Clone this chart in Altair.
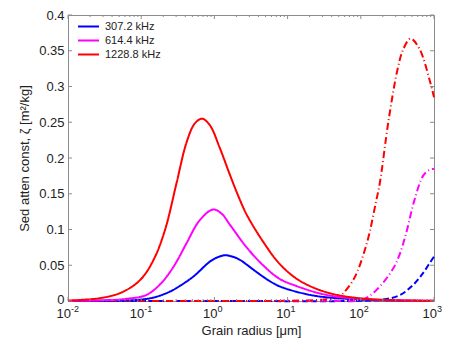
import altair as alt
import pandas as pd

# ---- data (x given as log10 of grain radius in µm) ----
freqs = ["307.2 kHz", "614.4 kHz", "1228.8 kHz"]
colors = ["#0000ff", "#ff00ff", "#ff0000"]

# viscous (solid) curves
blue_visc_logr = [-2.0, -1.5, -1.0, -0.79, -0.61, -0.52, -0.29, -0.063, 0.04, 0.142, 0.25, 0.35, 0.44, 0.57, 0.665, 0.76, 0.89, 1.12, 1.39, 1.67, 2.0, 2.5, 3.0]
blue_visc_val = [0.0, 0.0005, 0.002, 0.006, 0.013, 0.018, 0.034, 0.055, 0.061, 0.064, 0.062, 0.0575, 0.051, 0.041, 0.034, 0.0275, 0.0205, 0.013, 0.007, 0.004, 0.002, 0.0005, 0.0001]

mag_visc_logr = [-2.0, -1.5, -1.2, -0.93, -0.745, -0.61, -0.5, -0.38, -0.2, -0.018, 0.1, 0.21, 0.44, 0.665, 0.89, 1.12, 1.39, 1.67, 2.0, 2.5, 3.0]
mag_visc_val = [0.0001, 0.001, 0.003, 0.0084, 0.023, 0.040, 0.058, 0.081, 0.113, 0.128, 0.122, 0.107, 0.075, 0.050, 0.031, 0.021, 0.012, 0.006, 0.003, 0.0008, 0.0002]

red_visc_logr = [-2.0, -1.84, -1.56, -1.29, -1.06, -0.93, -0.81, -0.745, -0.65, -0.517, -0.38, -0.27, -0.17, -0.063, 0.074, 0.21, 0.33, 0.44, 0.665, 0.89, 1.14, 1.42, 1.7, 2.07, 2.5, 3.0]
red_visc_val = [0.0007, 0.0014, 0.004, 0.011, 0.025, 0.040, 0.062, 0.078, 0.108, 0.165, 0.222, 0.248, 0.255, 0.246, 0.214, 0.177, 0.146, 0.121, 0.083, 0.052, 0.030, 0.016, 0.008, 0.003, 0.001, 0.0003]

# scattering (dashed / dash-dot) curves
blue_scat_logr = [-2.0, 0.0, 2.0, 2.3, 2.53, 2.71, 2.85, 2.96, 3.0]
blue_scat_val = [0.0, 0.0, 0.0003, 0.002, 0.008, 0.022, 0.039, 0.056, 0.062]

mag_scat_logr = [-2.0, 0.0, 1.5, 2.02, 2.21, 2.44, 2.53, 2.62, 2.73, 2.85, 2.93, 3.0]
mag_scat_val = [0.0, 0.0, 0.0003, 0.002, 0.015, 0.045, 0.065, 0.095, 0.140, 0.175, 0.183, 0.185]

red_scat_logr = [-2.0, 0.0, 1.0, 1.5, 1.665, 1.71, 1.9, 2.08, 2.21, 2.26, 2.38, 2.5, 2.58, 2.68, 2.8, 2.94, 3.0]
red_scat_val = [0.0, 0.0, 0.0003, 0.002, 0.004, 0.006, 0.030, 0.080, 0.140, 0.165, 0.253, 0.323, 0.352, 0.367, 0.353, 0.309, 0.285]

y_ticks = [0, 0.05, 0.1, 0.15, 0.2, 0.25, 0.3, 0.35, 0.4]
x_major = [0.01, 0.1, 1, 10, 100, 1000]
x_exps = ["-2", "-1", "0", "1", "2", "3"]
x_minor = [m * d for d in [0.01, 0.1, 1, 10, 100] for m in range(2, 10)]

# ---- build table ----
series = [
    (freqs[0], "dash", blue_scat_logr, blue_scat_val),
    (freqs[1], "dashdot", mag_scat_logr, mag_scat_val),
    (freqs[2], "dashdot", red_scat_logr, red_scat_val),
    (freqs[0], "solid", blue_visc_logr, blue_visc_val),
    (freqs[1], "solid", mag_visc_logr, mag_visc_val),
    (freqs[2], "solid", red_visc_logr, red_visc_val),
]
rows = []
for order, (f, dash, lr, vals) in enumerate(series):
    for e, v in zip(lr, vals):
        rows.append({"freq": f, "dash": dash, "line": f"{f}-{dash}", "ord": order,
                     "r": 10 ** e, "val": v})
df = pd.DataFrame(rows)

W, H = 366, 286
xs = alt.Scale(type="log", domain=[0.01, 1000], nice=False)
ys = alt.Scale(domain=[0, 0.4], nice=False)
FONT = "Liberation Sans"
GREY = "#8c8c8c"
TXT = "#222222"

x_axis = alt.Axis(labels=False, ticks=False, domain=False, grid=False,
                  title="Grain radius [μm]", titlePadding=23,
                  titleFontSize=13, titleFont=FONT, titleFontWeight="normal",
                  titleColor=TXT)
y_axis = alt.Axis(values=y_ticks, format="~g", ticks=False, domain=False, grid=False,
                  labelOverlap=False, labelFontSize=13, labelFont=FONT,
                  labelColor=TXT, labelPadding=4,
                  labelOffset={"condition": {"test": "datum.value === 0", "value": -2},
                               "value": 0},
                  title="Sed atten const, ζ [m²/kg]", titleFontSize=13, titleFont=FONT,
                  titleFontWeight="normal", titleColor=TXT, titlePadding=7)


def X(field):
    return alt.X(field, type="quantitative", scale=xs, axis=x_axis, title="Grain radius [μm]")


def Y(field):
    return alt.Y(field, type="quantitative", scale=ys, axis=y_axis,
                 title="Sed atten const, ζ [m²/kg]")


lines = alt.Chart(df).mark_line(strokeWidth=2, interpolate="catmull-rom").encode(
    x=X("r"),
    y=Y("val"),
    color=alt.Color("freq:N", scale=alt.Scale(domain=freqs, range=colors),
                    legend=alt.Legend(title=None, orient="none", legendX=14, legendY=5,
                                      symbolType="M-2,0H2", symbolSize=110,
                                      symbolStrokeWidth=2, symbolFillColor="transparent",
                                      labelFontSize=11, labelFont=FONT, labelColor=TXT,
                                      labelOffset=10, rowPadding=2, padding=0)),
    strokeDash=alt.StrokeDash("dash:N", scale=alt.Scale(domain=["solid", "dash", "dashdot"],
                                                        range=[[1, 0], [6, 3], [7, 3, 1, 3]]),
                              legend=None),
    detail="line:N",
    order="ord:Q",
)

ytick_df = pd.DataFrame({"v": y_ticks})
ytick_left = alt.Chart(ytick_df).mark_rule(color=GREY, strokeWidth=1).encode(
    y=Y("v"), x=alt.value(0), x2=alt.value(4))
ytick_right = alt.Chart(ytick_df).mark_rule(color=GREY, strokeWidth=1).encode(
    y=Y("v"), x=alt.value(W - 4), x2=alt.value(W))

xmaj_df = pd.DataFrame({"r": x_major, "e": x_exps})
xmin_df = pd.DataFrame({"r": x_minor})
xt_bot = alt.Chart(xmaj_df).mark_rule(color=GREY).encode(
    x=X("r"), y=alt.value(H - 4), y2=alt.value(H))
xt_top = alt.Chart(xmaj_df).mark_rule(color=GREY).encode(
    x=X("r"), y=alt.value(0), y2=alt.value(4))
xm_bot = alt.Chart(xmin_df).mark_rule(color=GREY).encode(
    x=X("r"), y=alt.value(H - 2), y2=alt.value(H))
xm_top = alt.Chart(xmin_df).mark_rule(color=GREY).encode(
    x=X("r"), y=alt.value(0), y2=alt.value(2))

lab10 = alt.Chart(xmaj_df).mark_text(align="right", baseline="alphabetic", dx=3,
                                      fontSize=13, font=FONT, color=TXT).encode(
    x=X("r"), y=alt.value(H + 17), text=alt.value("10"))
labexp = alt.Chart(xmaj_df).mark_text(align="left", baseline="alphabetic", dx=3,
                                       fontSize=9, font=FONT, color=TXT).encode(
    x=X("r"), y=alt.value(H + 11), text="e:N")

chart = alt.layer(
    lines, xm_bot, xm_top, xt_bot, xt_top, ytick_left, ytick_right, lab10, labexp
).properties(
    width=W, height=H,
    autosize=alt.AutoSizeParams(type="none"),
    padding={"left": 68, "top": 15, "right": 40, "bottom": 41},
    background="white",
).configure_view(stroke=GREY, strokeWidth=1)

chart.save("out.html", embed_options={"renderer": "svg", "actions": False})
